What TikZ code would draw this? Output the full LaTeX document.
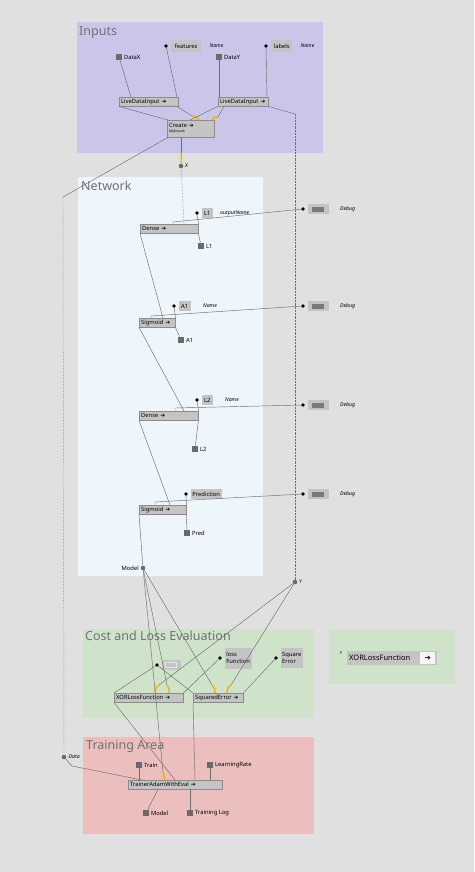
\documentclass[tikz,border=0pt]{standalone}
\usepackage{fontspec}
\setmainfont{Noto Sans}
\newfontfamily\arrfont{DejaVu Sans}
\usepackage{tikz}
\usetikzlibrary{positioning,calc}
\definecolor{canvascol}{HTML}{E0E0E0}
\definecolor{inpcol}{HTML}{C9C6EA}
\definecolor{netcol}{HTML}{EEF5FB}
\definecolor{costcol}{HTML}{CFE3CA}
\definecolor{traincol}{HTML}{EDBEBE}
\definecolor{nodecol}{HTML}{C4C4C4}
\definecolor{linkcol}{HTML}{6E6E6E}
\definecolor{spreadcol}{HTML}{F2B705}
\definecolor{titlecol}{HTML}{707074}
\definecolor{sqcol}{HTML}{6A6A6A}
\newcommand{\goarr}{{\arrfont\char"2794}}

\begin{document}
\begin{tikzpicture}[x=1pt,y=-1pt,font=\fontsize{5.8}{6.8}\selectfont,
   op/.style={fill=nodecol,draw=linkcol!80,line width=0.4pt,anchor=north west,
              align=left,inner xsep=2pt,inner ysep=1pt,minimum height=9pt},
   strbox/.style={fill=nodecol,inner sep=1.5pt,minimum height=10pt,align=left},
   dbgbox/.style={fill=nodecol,minimum width=21pt,minimum height=10pt,inner sep=0pt,
              path picture={\fill[sqcol!90] ([xshift=-6pt,yshift=-2.5pt]path picture bounding box.center)
                            rectangle ++(12pt,5pt);}},
   pad/.style={circle,fill=black,inner sep=0pt,minimum size=3.6pt},
   gpad/.style={circle,fill=sqcol,inner sep=0pt,minimum size=4.6pt},
   outsq/.style={fill=sqcol,inner sep=0pt,minimum size=6.5pt},
   lbl/.style={inner sep=1pt},
   hint/.style={inner sep=0pt,font=\fontsize{5.2}{6}\selectfont\itshape},
   title/.style={anchor=north west,inner sep=0pt,text=titlecol,font=\fontsize{12.5}{14}\selectfont},
   link/.style={draw=linkcol,line width=0.45pt},
   dlink/.style={link,densely dotted},
   spread/.style={draw=spreadcol,line width=1.5pt},
]
\useasboundingbox[fill=canvascol] (0,0) rectangle (474,872);

% regions
\fill[inpcol]   (77,22)   rectangle (323,153);
\fill[netcol]   (78,177)  rectangle (263,576);
\fill[costcol]  (83,629)  rectangle (314,718);
\fill[costcol]  (329,629) rectangle (455,684);
\fill[traincol] (83,737)  rectangle (314,834);
\node[title] (tinp)   at (79,26)  {Inputs};
\node[title] (tnet)   at (81,181) {Network};
\node[title] (tcost)  at (85,631) {Cost and Loss Evaluation};
\node[title] (ttrain) at (86,740) {Training Area};

% inputs
\node[outsq] (datax) at (119,57) {};
\node[lbl,right=0.5pt of datax] (dataxl) {DataX};
\node[pad] (featpad) at (166,46) {};
\node[strbox,right=3pt of featpad,minimum width=30pt,minimum height=12pt] (feat) {features};
\node[hint,right=8pt of feat] (featn) {Name};
\node[outsq] (datay) at (219,57) {};
\node[lbl,right=0.5pt of datay] (datayl) {DataY};
\node[pad] (labpad) at (266,46) {};
\node[strbox,right=3pt of labpad,minimum width=21pt,minimum height=12pt] (lab) {labels};
\node[hint,right=8pt of lab] (labn) {Name};
\node[op,text width=55pt] (ldi1) at (119,97) {LiveDataInput \goarr};
\node[op,text width=46pt] (ldi2) at (218,97) {LiveDataInput \goarr};
\node[op,text width=43pt,minimum height=17pt] (create) at (167,120)
     {Create \goarr\\[-2pt]{\fontsize{3.5}{4}\selectfont MyInputs}};
\node[gpad] (xpad) at (181,166) {};
\node[hint,right=1.5pt of xpad] (xlbl) {X};
\coordinate (databend) at (63,197);
\coordinate (ybend) at (295,114);

% network
\node[op,text width=54pt] (dense1) at (140,224) {Dense \goarr};
\node[pad] (l1pad) at (197,213) {};
\node[strbox,right=2.5pt of l1pad,minimum width=11pt] (l1box) {L1};
\node[hint,right=7pt of l1box] (l1n) {outputName};
\node[outsq] (l1out) at (201,246) {};
\node[lbl,right=0.5pt of l1out] (l1outl) {L1};
\node[pad] (dbg1pad) at (303,209) {};
\node[dbgbox,right=2.5pt of dbg1pad] (dbg1) {};
\node[hint,right=11pt of dbg1] (dbg1n) {Debug};

\node[op,text width=32pt] (sig1) at (139,318) {Sigmoid \goarr};
\node[pad] (a1pad) at (174,306) {};
\node[strbox,right=2.5pt of a1pad,minimum width=12pt] (a1box) {A1};
\node[hint,right=12pt of a1box] (a1n) {Name};
\node[outsq] (a1out) at (181,340) {};
\node[lbl,right=0.5pt of a1out] (a1outl) {A1};
\node[pad] (dbg2pad) at (303,306) {};
\node[dbgbox,right=2.5pt of dbg2pad] (dbg2) {};
\node[hint,right=11pt of dbg2] (dbg2n) {Debug};

\node[op,text width=55pt] (dense2) at (139,411) {Dense \goarr};
\node[pad] (l2pad) at (197,400) {};
\node[strbox,right=2.5pt of l2pad,minimum width=11pt] (l2box) {L2};
\node[hint,right=12pt of l2box] (l2n) {Name};
\node[outsq] (l2out) at (195,449) {};
\node[lbl,right=0.5pt of l2out] (l2outl) {L2};
\node[pad] (dbg3pad) at (303,405) {};
\node[dbgbox,right=2.5pt of dbg3pad] (dbg3) {};
\node[hint,right=11pt of dbg3] (dbg3n) {Debug};

\node[op,text width=43pt] (sig2) at (139,505) {Sigmoid \goarr};
\node[pad] (predpad) at (186,494) {};
\node[strbox,right=2.5pt of predpad,minimum width=31pt] (predbox) {Prediction};
\node[outsq] (predout) at (187,533) {};
\node[lbl,right=0.5pt of predout] (predoutl) {Pred};
\node[pad] (dbg4pad) at (303,494) {};
\node[dbgbox,right=2.5pt of dbg4pad] (dbg4) {};
\node[hint,right=11pt of dbg4] (dbg4n) {Debug};

\node[gpad] (modelpad) at (143,568) {};
\node[lbl,left=0.5pt of modelpad] (modell) {Model};
\node[gpad] (ypad) at (295,582) {};
\node[hint,right=1.5pt of ypad] (yl) {Y};

% cost and loss
\node[pad] (emptypad) at (157,665) {};
\node[strbox,right=2.5pt of emptypad,minimum width=19pt,
      path picture={\draw[white!80!gray,line width=0.5pt]
        ([xshift=-5.5pt,yshift=-2.5pt]path picture bounding box.center) rectangle ++(11pt,5pt);}]
      (emptybox) {};
\node[pad] (losspad) at (220,658) {};
\node[strbox,right=2.5pt of losspad,minimum width=27pt,minimum height=21pt] (lossbox) {loss\\Function};
\node[pad] (sqpad) at (276,658) {};
\node[strbox,right=2.5pt of sqpad,minimum width=22pt,minimum height=20pt] (sqbox) {Square\\Error};
\node[op,text width=65pt] (xor) at (114,693) {XORLossFunction \goarr};
\node[op,text width=46pt] (sqerr) at (193,693) {SquaredError \goarr};

% patch definition
\node[inner sep=0pt,font=\fontsize{3.5}{4}\selectfont] (pmark) at (341,653) {P};
\node[fill=nodecol,anchor=north west,minimum width=90pt,minimum height=14pt,
      inner sep=2pt,text width=86pt,align=left,font=\fontsize{7.5}{8}\selectfont]
      (xorproto) at (347,651) {XORLossFunction};
\node[fill=white!85!nodecol,anchor=east,minimum width=15pt,minimum height=12pt,inner sep=0pt,
      font=\fontsize{7.5}{8}\selectfont] (xorprotoarr) at ($(xorproto.east)+(-2,0)$) {\goarr};

% training
\node[op,text width=90pt] (trainer) at (128,780) {TrainerAdamWithEval \goarr};
\node[outsq] (trainsq) at (139,765) {};
\node[lbl,right=0.5pt of trainsq] (trainl) {Train};
\node[outsq] (lrsq) at (210,765) {};
\node[lbl,right=0.5pt of lrsq] (lrl) {LearningRate};
\node[outsq] (modelout) at (146,813) {};
\node[lbl,right=0.5pt of modelout] (modeloutl) {Model};
\node[outsq] (logout) at (190,813) {};
\node[lbl,right=0.5pt of logout] (logoutl) {Training Log};
\node[gpad] (datapad) at (64,757) {};
\node[hint,right=2pt of datapad] (datal) {Data};

% links inputs
\draw[link] (datax) -- ($(ldi1.north west)+(12,0)$);
\draw[link] (featpad) -- ($(ldi1.north west)+(58,0)$);
\draw[link] (datay) -- ($(ldi2.north west)+(1,0)$);
\draw[link] (labpad) -- ($(ldi2.north west)+(49,0)$);
\draw[link] (ldi1.south west) -- ($(create.north west)+(1,0)$);
\draw[link] ($(ldi1.south west)+(58,0)$) -- ($(create.north west)+(25,-4)$);
\draw[spread] ($(create.north west)+(25,-4)$) to[bend left=35] ($(create.north west)+(32,0)$);
\draw[link] (ldi2.south west) -- ($(create.north west)+(23,0)$);
\draw[link] ($(ldi2.south west)+(6,0)$) -- ($(create.north west)+(51,-3)$);
\draw[spread] ($(create.north west)+(51,-3)$) to[bend right=35] ($(create.north west)+(45,0)$);
\draw[link] ($(create.south west)+(1,0)$) -- (databend);
\draw[dlink] (databend) -- (datapad);
\draw[link] (ldi2.south east) -- (ybend);
\draw[dlink] (ybend) -- (ypad);
\draw[link] ($(create.south west)+(14,0)$) -- ($(xpad)+(0,-13)$);
\draw[spread] ($(xpad)+(0,-13)$) to[bend left=10] ($(xpad)+(0,-3)$);
\draw[dlink] (xpad) -- ($(dense1.north west)+(44,0)$);

% links network
\draw[link] (dbg1pad) -- ($(dense1.north west)+(33,-2)$) -- ($(dense1.north west)+(33,0)$);
\draw[link] (l1pad) -- (dense1.north east);
\draw[link] (dense1.south east) -- (l1out);
\draw[link] (dense1.south west) -- ($(sig1.north west)+(24,0)$);
\draw[link] (dbg2pad) -- ($(sig1.north west)+(12,-2)$) -- ($(sig1.north west)+(12,0)$);
\draw[link] (a1pad) -- (sig1.north east);
\draw[link] (sig1.south east) -- (a1out);
\draw[link] (sig1.south west) -- ($(dense2.north west)+(45,0)$);
\draw[link] (dbg3pad) -- ($(dense2.north west)+(36,-3)$) -- ($(dense2.north west)+(36,0)$);
\draw[link] (l2pad) -- (dense2.north east);
\draw[link] (dense2.south east) -- (l2out);
\draw[link] (dense2.south west) -- ($(sig2.north west)+(31,0)$);
\draw[link] (dbg4pad) -- ($(sig2.north west)+(16,-3)$) -- ($(sig2.north west)+(16,0)$);
\draw[link] (predpad) -- (sig2.north east);
\draw[link] (sig2.south east) -- (predout);
\draw[link] (sig2.south west) -- (modelpad);

% links cost and loss
\draw[link] (modelpad) -- ($(xor.north west)+(53,-8)$);
\draw[spread] ($(xor.north west)+(53,-8)$) to[bend left=30] ($(xor.north west)+(55,0)$);
\draw[link] (ypad) -- ($(xor.north west)+(45,-8)$);
\draw[spread] ($(xor.north west)+(45,-8)$) to[bend right=30] ($(xor.north west)+(41,0)$);
\draw[link] (modelpad) -- ($(sqerr.north west)+(19,-8)$);
\draw[spread] ($(sqerr.north west)+(19,-8)$) to[bend left=30] ($(sqerr.north west)+(22,0)$);
\draw[link] (ypad) -- ($(sqerr.north west)+(38,-8)$);
\draw[spread] ($(sqerr.north west)+(38,-8)$) to[bend right=30] ($(sqerr.north west)+(34,0)$);
\draw[link] (emptypad) -- (xor.north west);
\draw[link] (emptypad) -- (sqerr.north west);
\draw[link] (losspad) -- (xor.north east);
\draw[link] (sqpad) -- (sqerr.north east);

% links training
\draw[link] (modelpad) -- ($(trainer.north west)+(35,-8)$);
\draw[spread] ($(trainer.north west)+(35,-8)$) to[bend left=20] ($(trainer.north west)+(36,0)$);
\draw[link] (xor.south west) -- ($(trainer.north west)+(47,0)$);
\draw[link] (sqerr.south west) -- ($(trainer.north west)+(67,0)$);
\draw[link] (datapad) -- ($(datapad)+(8,9)$) -- ($(trainer.north west)+(14,0)$);
\draw[link] (trainsq) -- ($(trainer.north west)+(11,0)$);
\draw[link] (lrsq) -- ($(trainer.north west)+(82,0)$);
\draw[link] ($(trainer.south west)+(30,0)$) -- (modelout);
\draw[link] ($(trainer.south west)+(62,0)$) -- (logout);
\end{tikzpicture}
\end{document}
